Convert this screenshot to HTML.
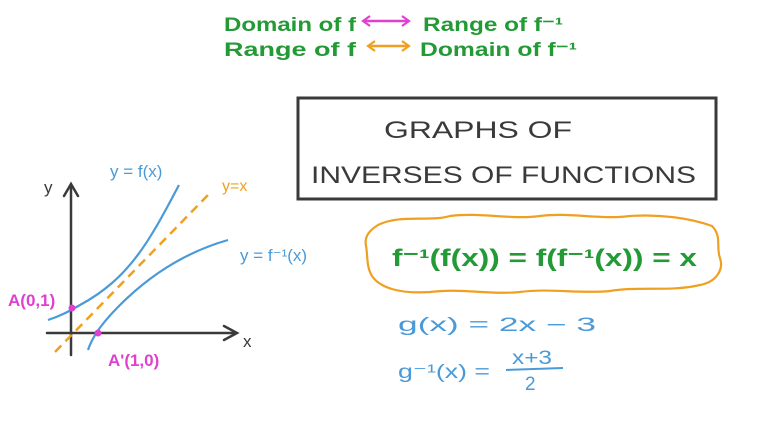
<!DOCTYPE html>
<html><head><meta charset="utf-8"><style>
html,body{margin:0;padding:0;background:#fff}
svg{display:block}
text{font-family:"Liberation Sans",sans-serif}
</style></head><body>
<svg width="760" height="427" viewBox="0 0 760 427" xmlns="http://www.w3.org/2000/svg">
<defs>
<marker id="am" markerUnits="userSpaceOnUse" markerWidth="12" markerHeight="12" refX="9" refY="6" orient="auto-start-reverse"><path d="M2,1 L9,6 L2,11" fill="none" stroke="#e040d0" stroke-width="2.2"/></marker>
<marker id="ao" markerUnits="userSpaceOnUse" markerWidth="12" markerHeight="12" refX="9" refY="6" orient="auto-start-reverse"><path d="M2,1 L9,6 L2,11" fill="none" stroke="#f0a020" stroke-width="2.2"/></marker>
</defs>
<g fill="#239a35" font-weight="bold" font-size="19">
<text x="224" y="31" textLength="132" lengthAdjust="spacingAndGlyphs">Domain of f</text>
<text x="423" y="31" textLength="140" lengthAdjust="spacingAndGlyphs">Range of f⁻¹</text>
<text x="224" y="56" textLength="132" lengthAdjust="spacingAndGlyphs">Range of f</text>
<text x="420" y="56" textLength="157" lengthAdjust="spacingAndGlyphs">Domain of f⁻¹</text>
</g>
<line x1="363" y1="21" x2="409" y2="21" stroke="#e040d0" stroke-width="2.5" marker-start="url(#am)" marker-end="url(#am)"/>
<line x1="368" y1="46" x2="409" y2="46" stroke="#f0a020" stroke-width="2.5" marker-start="url(#ao)" marker-end="url(#ao)"/>
<rect x="298" y="98" width="418" height="101" fill="none" stroke="#3a3a3a" stroke-width="3"/>
<g fill="#3a3a3a" font-size="24">
<text x="384" y="138" textLength="188" lengthAdjust="spacingAndGlyphs">GRAPHS OF</text>
<text x="311" y="183" textLength="385" lengthAdjust="spacingAndGlyphs">INVERSES OF FUNCTIONS</text>
</g>
<g stroke="#3a3a3a" stroke-width="2.5" fill="none" stroke-linecap="round">
<line x1="71" y1="185" x2="71" y2="355"/>
<path d="M64,196 L71,184 L78,196"/>
<line x1="47" y1="333" x2="236" y2="333"/>
<path d="M224,326 L237,333 L224,340"/>
</g>
<text x="44" y="193" font-size="17" fill="#3a3a3a">y</text>
<text x="243" y="347" font-size="17" fill="#3a3a3a">x</text>
<line x1="55" y1="352" x2="208" y2="195" stroke="#f0a020" stroke-width="2.5" stroke-dasharray="9,6"/>
<g stroke="#4a9ad8" stroke-width="2.2" fill="none">
<path d="M48,320 C60,316 68,312 80,305 C130,278 150,240 179,185"/>
<path d="M88,350 C92,338 100,325 120,305 C160,265 200,248 228,240"/>
</g>
<circle cx="72" cy="308" r="3.5" fill="#e040d0"/>
<circle cx="98" cy="333" r="3.5" fill="#e040d0"/>
<g fill="#e040d0" font-size="17" font-weight="bold">
<text x="8" y="306">A(0,1)</text>
<text x="108" y="366">A'(1,0)</text>
</g>
<g fill="#4a9ad8" font-size="17">
<text x="110" y="177">y = f(x)</text>
<text x="240" y="261">y = f⁻¹(x)</text>
</g>
<text x="222" y="191" font-size="16" fill="#f0a020">y=x</text>
<path d="M378,225 C400,214 430,222 450,216 C480,212 510,220 540,216 C570,212 600,220 630,216 C660,214 690,218 712,226 C722,236 716,248 720,258 C724,270 716,282 700,285 C670,292 640,286 610,291 C580,294 550,288 520,292 C490,295 460,288 430,292 C400,294 380,288 372,276 C366,266 368,256 366,246 C364,236 370,230 378,225 Z" fill="none" stroke="#f0a020" stroke-width="2.2"/>
<text x="392" y="266" font-size="24" fill="#239a35" font-weight="bold" textLength="305" lengthAdjust="spacingAndGlyphs">f⁻¹(f(x)) = f(f⁻¹(x)) = x</text>
<g fill="#4a9ad8" font-size="19">
<text x="398" y="331" textLength="198" lengthAdjust="spacingAndGlyphs">g(x)  =  2x − 3</text>
<text x="398" y="378" textLength="92" lengthAdjust="spacingAndGlyphs">g⁻¹(x)  =</text>
<text x="512" y="364" textLength="40" lengthAdjust="spacingAndGlyphs">x+3</text>
<text x="525" y="390">2</text>
</g>
<line x1="506" y1="370" x2="563" y2="368" stroke="#4a9ad8" stroke-width="2"/>
</svg>
</body></html>
